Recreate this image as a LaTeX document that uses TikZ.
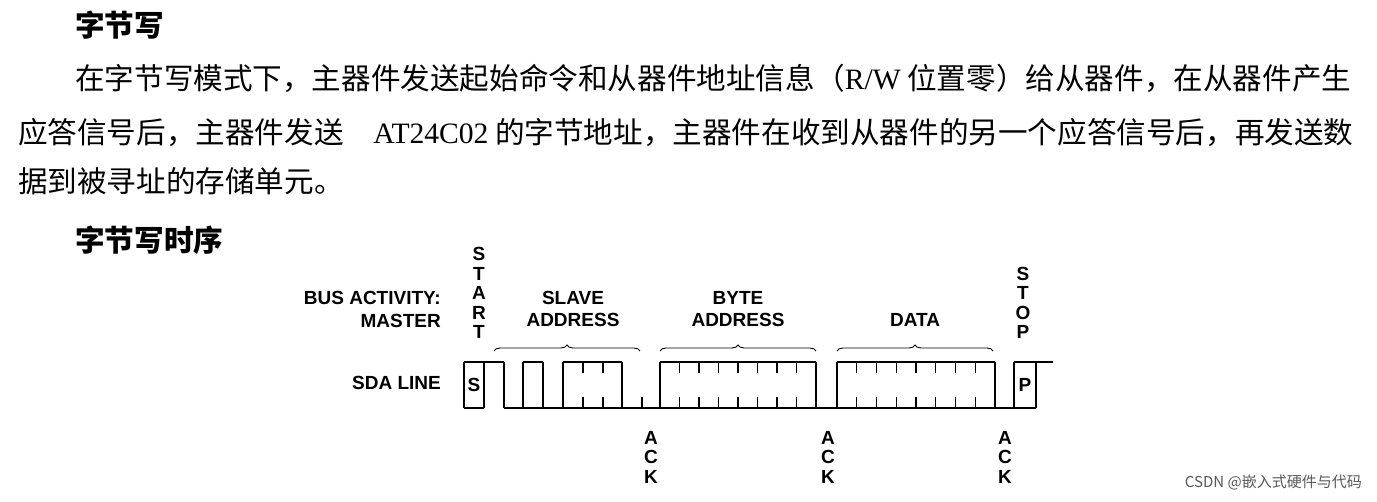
\documentclass[tikz,border=0pt]{standalone}
\usepackage{fontspec}
\setmainfont{Liberation Serif}
\newfontfamily\cjk{Noto Sans CJK SC}
\newfontfamily\lab{Liberation Sans}
\usetikzlibrary{decorations.pathreplacing}
\begin{document}
\begin{tikzpicture}[x=1pt,y=-1pt,
  para/.style={anchor=west,inner sep=0pt,font=\cjk\fontsize{29.6}{34}\selectfont},
  lbl/.style={inner sep=0pt,font=\lab\bfseries\fontsize{19}{22}\selectfont},
  vlbl/.style={inner sep=0pt,align=center,font=\lab\bfseries\fontsize{19}{19.5}\selectfont},
  sig/.style={line width=1.6pt},
  tick/.style={line width=1.1pt},
  brc/.style={decorate,decoration={brace,amplitude=6pt},line width=0.9pt}]
\useasboundingbox (0,0) rectangle (1377,502);
\fill[white] (0,0) rectangle (1377,502);
% text
\node[para] (h1) at (75,25) {\bfseries 字节写};
\node[para] (l1) at (75,78) {在字节写模式下，主器件发送起始命令和从器件地址信息（{\rmfamily R/W} 位置零）给从器件，在从器件产生};
\node[para] (l2) at (18,133) {应答信号后，主器件发送\quad{\rmfamily AT24C02} 的字节地址，主器件在收到从器件的另一个应答信号后，再发送数};
\node[para] (l3) at (18,181) {据到被寻址的存储单元。};
\node[para] (h2) at (75,240) {\bfseries 字节写时序};
\node[anchor=east,inner sep=0pt,text=black!65,font=\cjk\fontsize{15}{17}\selectfont] (wm) at (1362,482) {CSDN @嵌入式硬件与代码};
% labels
\node[lbl,anchor=east] (bus) at (441,298) {BUS ACTIVITY:};
\node[lbl,anchor=east] (mas) at (441,321) {MASTER};
\node[lbl,anchor=east] (sda) at (441,383) {SDA LINE};
\node[vlbl] (start) at (479,293) {S\\T\\A\\R\\T};
\node[vlbl] (stop) at (1023,303) {S\\T\\O\\P};
\node[vlbl] (ack1) at (651,457) {A\\C\\K};
\node[vlbl] (ack2) at (828,457) {A\\C\\K};
\node[vlbl] (ack3) at (1005,457) {A\\C\\K};
\node[lbl,align=center] (sla) at (573,309) {SLAVE\\ADDRESS};
\node[lbl,align=center] (bya) at (738,309) {BYTE\\ADDRESS};
\node[lbl] (dat) at (915,320) {DATA};
\node[lbl] (s) at (474,385) {S};
\node[lbl] (p) at (1025,385) {P};
% braces
\draw[brc] (494,351) -- (640,351);
\draw[brc] (660,351) -- (816,351);
\draw[brc] (837,351) -- (993,351);
% signal
\draw[sig] (464,362) -- (504,362) (523,362) -- (543,362) (563,362) -- (622,362)
  (660,362) -- (816,362) (837,362) -- (995,362) (1014,362) -- (1053,362);
\draw[sig] (464,408) -- (484,408) (504,408) -- (1036,408);
\foreach \xx in {464,484,504,523,543,563,622,660,816,837,995,1014,1036}
  \draw[sig] (\xx,362) -- (\xx,408);
\foreach \xx in {583,603} {\draw[tick] (\xx,362) -- (\xx,373); \draw[tick] (\xx,397) -- (\xx,408);}
\draw[tick] (642,397) -- (642,408);
\foreach \k in {1,...,7} {
  \draw[tick] ({660+19.5*\k},362) -- ++(0,11); \draw[tick] ({660+19.5*\k},397) -- ++(0,11);
  \draw[tick] ({837+19.75*\k},362) -- ++(0,11); \draw[tick] ({837+19.75*\k},397) -- ++(0,11);}
\end{tikzpicture}
\end{document}
